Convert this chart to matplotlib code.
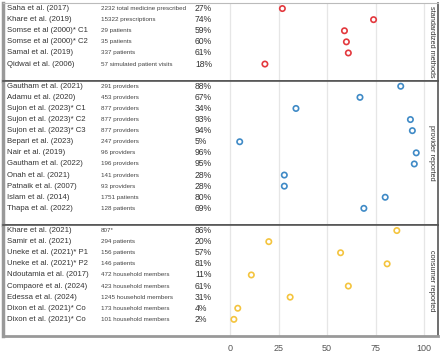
import matplotlib.pyplot as plt
from matplotlib import font_manager

# study names, sample sizes and percentages per group
std_names = ["Saha et al. (2017)", "Khare et al. (2019)", "Somse et al (2000)* C1",
             "Somse et al (2000)* C2", "Samal et al. (2019)", "Qidwai et al. (2006)"]
std_n = ["2232 total medicine prescribed", "15322 prescriptions", "29 patients",
         "35 patients", "337 patients", "57 simulated patient visits"]
std_pct = [27, 74, 59, 60, 61, 18]

prov_names = ["Gautham et al. (2021)", "Adamu et al. (2020)", "Sujon et al. (2023)* C1",
              "Sujon et al. (2023)* C2", "Sujon et al. (2023)* C3", "Bepari et al. (2023)",
              "Nair et al. (2019)", "Gautham et al. (2022)", "Onah et al. (2021)",
              "Patnaik et al. (2007)", "Islam et al. (2014)", "Thapa et al. (2022)"]
prov_n = ["291 providers", "453 providers", "877 providers", "877 providers",
          "877 providers", "247 providers", "96 providers", "196 providers",
          "141 providers", "93 providers", "1751 patients", "128 patients"]
prov_pct = [88, 67, 34, 93, 94, 5, 96, 95, 28, 28, 80, 69]

cons_names = ["Khare et al. (2021)", "Samir et al. (2021)", "Uneke et al. (2021)* P1",
              "Uneke et al. (2021)* P2", "Ndoutamia et al. (2017)", "Compaoré et al. (2024)",
              "Edessa et al. (2024)", "Dixon et al. (2021)* Co", "Dixon et al. (2021)* Co"]
cons_n = ["807*", "294 patients", "156 patients", "146 patients", "472 household members",
          "423 household members", "1245 household members", "173 household members",
          "101 household members"]
cons_pct = [86, 20, 57, 81, 11, 61, 31, 4, 2]

groups = [
    ("standardized methods", std_names, std_n, std_pct, "#e3383d"),
    ("provider reported", prov_names, prov_n, prov_pct, "#3f8ac6"),
    ("consumer reported", cons_names, cons_n, cons_pct, "#f4c43e"),
]

plt.rcParams['font.family'] = ['Liberation Sans', 'DejaVu Sans']

W, H = 440, 353
fig = plt.figure(figsize=(W / 100, H / 100), dpi=100)

# pixel layout: x=0 -> 230px, x=100 -> 424px
left_px, right_px = 3, 438
top_px, bot_px = 3, 336
scale = (424 - 230) / 100
xmin = (left_px - 230) / scale
xmax = (right_px - 230) / scale

heights = [len(g[1]) + 1 for g in groups]
total = sum(heights)
unit = (bot_px - top_px) / total

def px(p):
    # pixel column -> data x
    return (p - 230) / scale

y_cur = top_px
axes = []
for (label, names, ns, pct, color), h in zip(groups, heights):
    ax = fig.add_axes([left_px / W, 1 - (y_cur + h * unit) / H,
                       (right_px - left_px) / W, h * unit / H])
    y_cur += h * unit
    axes.append(ax)
    ax.set_xlim(xmin, xmax)
    ax.set_ylim(h - 0.5, -0.5)
    for gx in [0, 25, 50, 75, 100]:
        ax.axvline(gx, color="#e6e6e6", lw=0.9, zorder=0)
    rows = list(range(len(names)))
    ax.scatter(pct, rows, s=15, facecolors="none", edgecolors=color, linewidths=1.2, zorder=3)
    for i in rows:
        ax.text(px(7), i, names[i], fontsize=5.6, color="#333333", va="center")
        ax.text(px(101), i, ns[i], fontsize=4.5, color="#444444", va="center")
        ax.text(px(195), i, f"{pct[i]}%", fontsize=6.2, color="#333333", va="center")
    ax.text(px(431), (h - 1) / 2, label, rotation=-90,
            fontsize=5.3, color="#333333", ha="center", va="center")
    ax.set_xticks([])
    ax.set_yticks([])
    for s in ax.spines.values():
        s.set_color("#555555")
        s.set_linewidth(1.2)
    ax.spines["left"].set_color("#999999")
    ax.spines["left"].set_linewidth(2.5)

axes[0].spines["top"].set_color("#bbbbbb")
axes[0].spines["top"].set_linewidth(0.8)
axes[-1].spines["bottom"].set_color("#999999")
axes[-1].spines["bottom"].set_linewidth(2)

bottom = axes[-1]
bottom.set_xticks([0, 25, 50, 75, 100])
bottom.tick_params(axis="x", length=0, labelsize=6.5, labelcolor="#555555", pad=6)

fig.savefig("out.png", dpi=100)
